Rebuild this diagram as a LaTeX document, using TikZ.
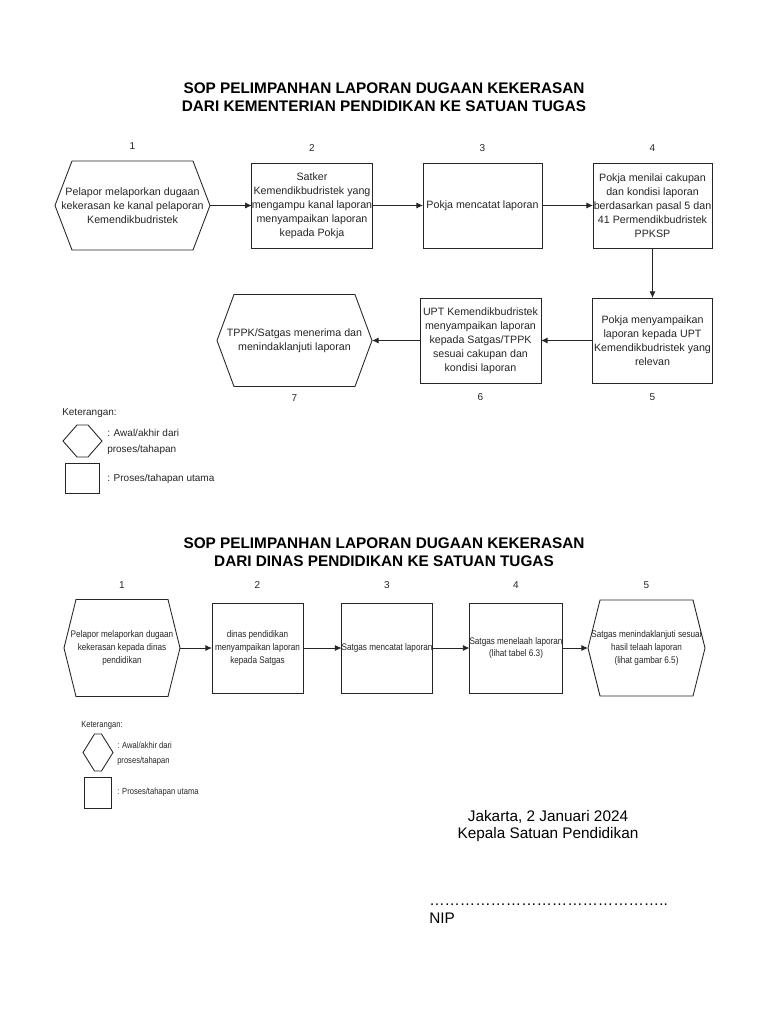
\documentclass[tikz,border=0pt]{standalone}
\usepackage{fontspec}
\setmainfont{Liberation Sans}
\newfontfamily\narrowfont[FakeStretch=0.85]{Liberation Sans}
\usetikzlibrary{arrows.meta,positioning}
\newlength{\pxu}
\setlength{\pxu}{0.75pt}
\newcommand{\hexframe}[2]{\draw[ink] (#1.west) -- ([xshift=#2]#1.north west) -- ([xshift=-#2]#1.north east) -- (#1.east) -- ([xshift=-#2]#1.south east) -- ([xshift=#2]#1.south west) -- cycle;}

\begin{document}
\begin{tikzpicture}[
        x=\pxu, y=-\pxu,
        ink/.style={black!85, line width=0.65pt},
        bigtext/.style={align=center, inner sep=0pt, outer sep=0pt, text=black!85, font=\fontsize{8}{10.5}\selectfont},
        smalltext/.style={align=center, inner sep=0pt, outer sep=0pt, text=black!85, font=\narrowfont\fontsize{7.2}{9.4}\selectfont},
        stepbox/.style={bigtext, ink, draw, minimum width=120\pxu, minimum height=85\pxu},
        smallbox/.style={smalltext, ink, draw, minimum width=91\pxu, minimum height=90\pxu},
        num/.style={inner sep=0pt, text=black!85, font=\fontsize{7.5}{9}\selectfont},
        arr/.style={ink, -{Latex[length=5pt,width=4.5pt]}},
        title/.style={align=center, font=\bfseries\fontsize{11.5}{13.5}\selectfont},
        legend/.style={anchor=west, align=left, inner sep=0pt, text=black!85, font=\fontsize{7.5}{12}\selectfont},
        smalllegend/.style={anchor=west, align=left, inner sep=0pt, text=black!85, font=\narrowfont\fontsize{6.7}{11.25}\selectfont},
        sign/.style={align=center, inner sep=0pt, font=\fontsize{11.5}{12.75}\selectfont}
    ]
    \path[use as bounding box, fill=white] (0,0) rectangle (768,1024);

    % SOP 1: Kementerian
    \node[title] (title1) at (384,97) {SOP PELIMPANHAN LAPORAN DUGAAN KEKERASAN\\DARI KEMENTERIAN PENDIDIKAN KE SATUAN TUGAS};

    \node[bigtext, minimum width=155\pxu, minimum height=89\pxu] (h1) at (132.5,205.5) {Pelapor melaporkan dugaan\\kekerasan ke kanal pelaporan\\Kemendikbudristek};
    \hexframe{h1}{17\pxu}
    \node[stepbox] (b2) at (312,205.5) {Satker\\Kemendikbudristek yang\\mengampu kanal laporan\\menyampaikan laporan\\kepada Pokja};
    \node[stepbox, minimum width=119\pxu] (b3) at (482.5,205.5) {Pokja mencatat laporan};
    \node[stepbox, minimum width=119\pxu] (b4) at (652.5,205.5) {Pokja menilai cakupan\\dan kondisi laporan\\berdasarkan pasal 5 dan\\41 Permendikbudristek\\PPKSP};
    \node[stepbox] (b5) at (652.5,340.5) {Pokja menyampaikan\\laporan kepada UPT\\Kemendikbudristek yang\\relevan};
    \node[stepbox, minimum width=121\pxu] (b6) at (480.5,340.5) {UPT Kemendikbudristek\\menyampaikan laporan\\kepada Satgas/TPPK\\sesuai cakupan dan\\kondisi laporan};
    \node[bigtext, minimum width=155\pxu, minimum height=92\pxu] (h7) at (294.5,340.5) {TPPK/Satgas menerima dan\\menindaklanjuti laporan};
    \hexframe{h7}{17\pxu}

    \node[num, above=11\pxu of h1] (n1) {1};
    \node[num, above=11\pxu of b2] (n2) {2};
    \node[num, above=11\pxu of b3] (n3) {3};
    \node[num, above=11\pxu of b4] (n4) {4};
    \node[num, below=10\pxu of b5] (n5) {5};
    \node[num, below=10\pxu of b6] (n6) {6};
    \node[num, below=8\pxu of h7] (n7) {7};

    \draw[arr] (h1) -- (b2);
    \draw[arr] (b2) -- (b3);
    \draw[arr] (b3) -- (b4);
    \draw[arr] (b4) -- (b5);
    \draw[arr] (b5) -- (b6);
    \draw[arr] (b6) -- (h7);

    % legend 1
    \node[legend] (key1) at (62,413) {Keterangan:};
    \node[inner sep=0pt, outer sep=0pt, minimum width=39\pxu, minimum height=32\pxu] (lhex1) at (82.5,441) {};
    \hexframe{lhex1}{14\pxu}
    \node[legend] (lhex1txt) at (107,442) {: Awal/akhir dari\\proses/tahapan};
    \node[ink, draw, inner sep=0pt, minimum width=34\pxu, minimum height=30\pxu] (lbox1) at (82,478) {};
    \node[legend] (lbox1txt) at (107,479) {: Proses/tahapan utama};

    % SOP 2: Dinas
    \node[title] (title2) at (384,552) {SOP PELIMPANHAN LAPORAN DUGAAN KEKERASAN\\DARI DINAS PENDIDIKAN KE SATUAN TUGAS};

    \node[smalltext, minimum width=116\pxu, minimum height=97\pxu] (g1) at (122,648) {Pelapor melaporkan dugaan\\kekerasan kepada dinas\\pendidikan};
    \hexframe{g1}{12\pxu}
    \node[smallbox] (c2) at (257.5,648) {dinas pendidikan\\menyampaikan laporan\\kepada Satgas};
    \node[smallbox, minimum width=90\pxu] (c3) at (387,648) {Satgas mencatat laporan};
    \node[smallbox, minimum width=92\pxu] (c4) at (516,648) {Satgas menelaah laporan\\(lihat tabel 6.3)};
    \node[smalltext, minimum width=117\pxu, minimum height=96\pxu] (g5) at (646.5,648) {Satgas menindaklanjuti sesuai\\hasil telaah laporan\\(lihat gambar 6.5)};
    \hexframe{g5}{12\pxu}

    \node[num, above=11\pxu of g1] (m1) {1};
    \node[num, above=14\pxu of c2] (m2) {2};
    \node[num, above=14\pxu of c3] (m3) {3};
    \node[num, above=14\pxu of c4] (m4) {4};
    \node[num, above=11\pxu of g5] (m5) {5};

    \draw[arr] (g1) -- (c2);
    \draw[arr] (c2) -- (c3);
    \draw[arr] (c3) -- (c4);
    \draw[arr] (c4) -- (g5);

    % legend 2
    \node[smalllegend] (key2) at (81,725) {Keterangan:};
    \node[inner sep=0pt, outer sep=0pt, minimum width=30\pxu, minimum height=37\pxu] (lhex2) at (98,752.5) {};
    \hexframe{lhex2}{11.5\pxu}
    \node[smalllegend] (lhex2txt) at (117,754) {: Awal/akhir dari\\proses/tahapan};
    \node[ink, draw, inner sep=0pt, minimum width=27\pxu, minimum height=31\pxu] (lbox2) at (97.5,792.5) {};
    \node[smalllegend] (lbox2txt) at (117,792) {: Proses/tahapan utama};

    % tanda tangan
    \node[sign] (place) at (548,826) {Jakarta, 2 Januari 2024\\Kepala Satuan Pendidikan};
    \node[sign, anchor=west] (dots) at (429,905) {………………………………………..};
    \node[sign, anchor=west] (nip) at (429,918) {NIP};
\end{tikzpicture}
\end{document}
